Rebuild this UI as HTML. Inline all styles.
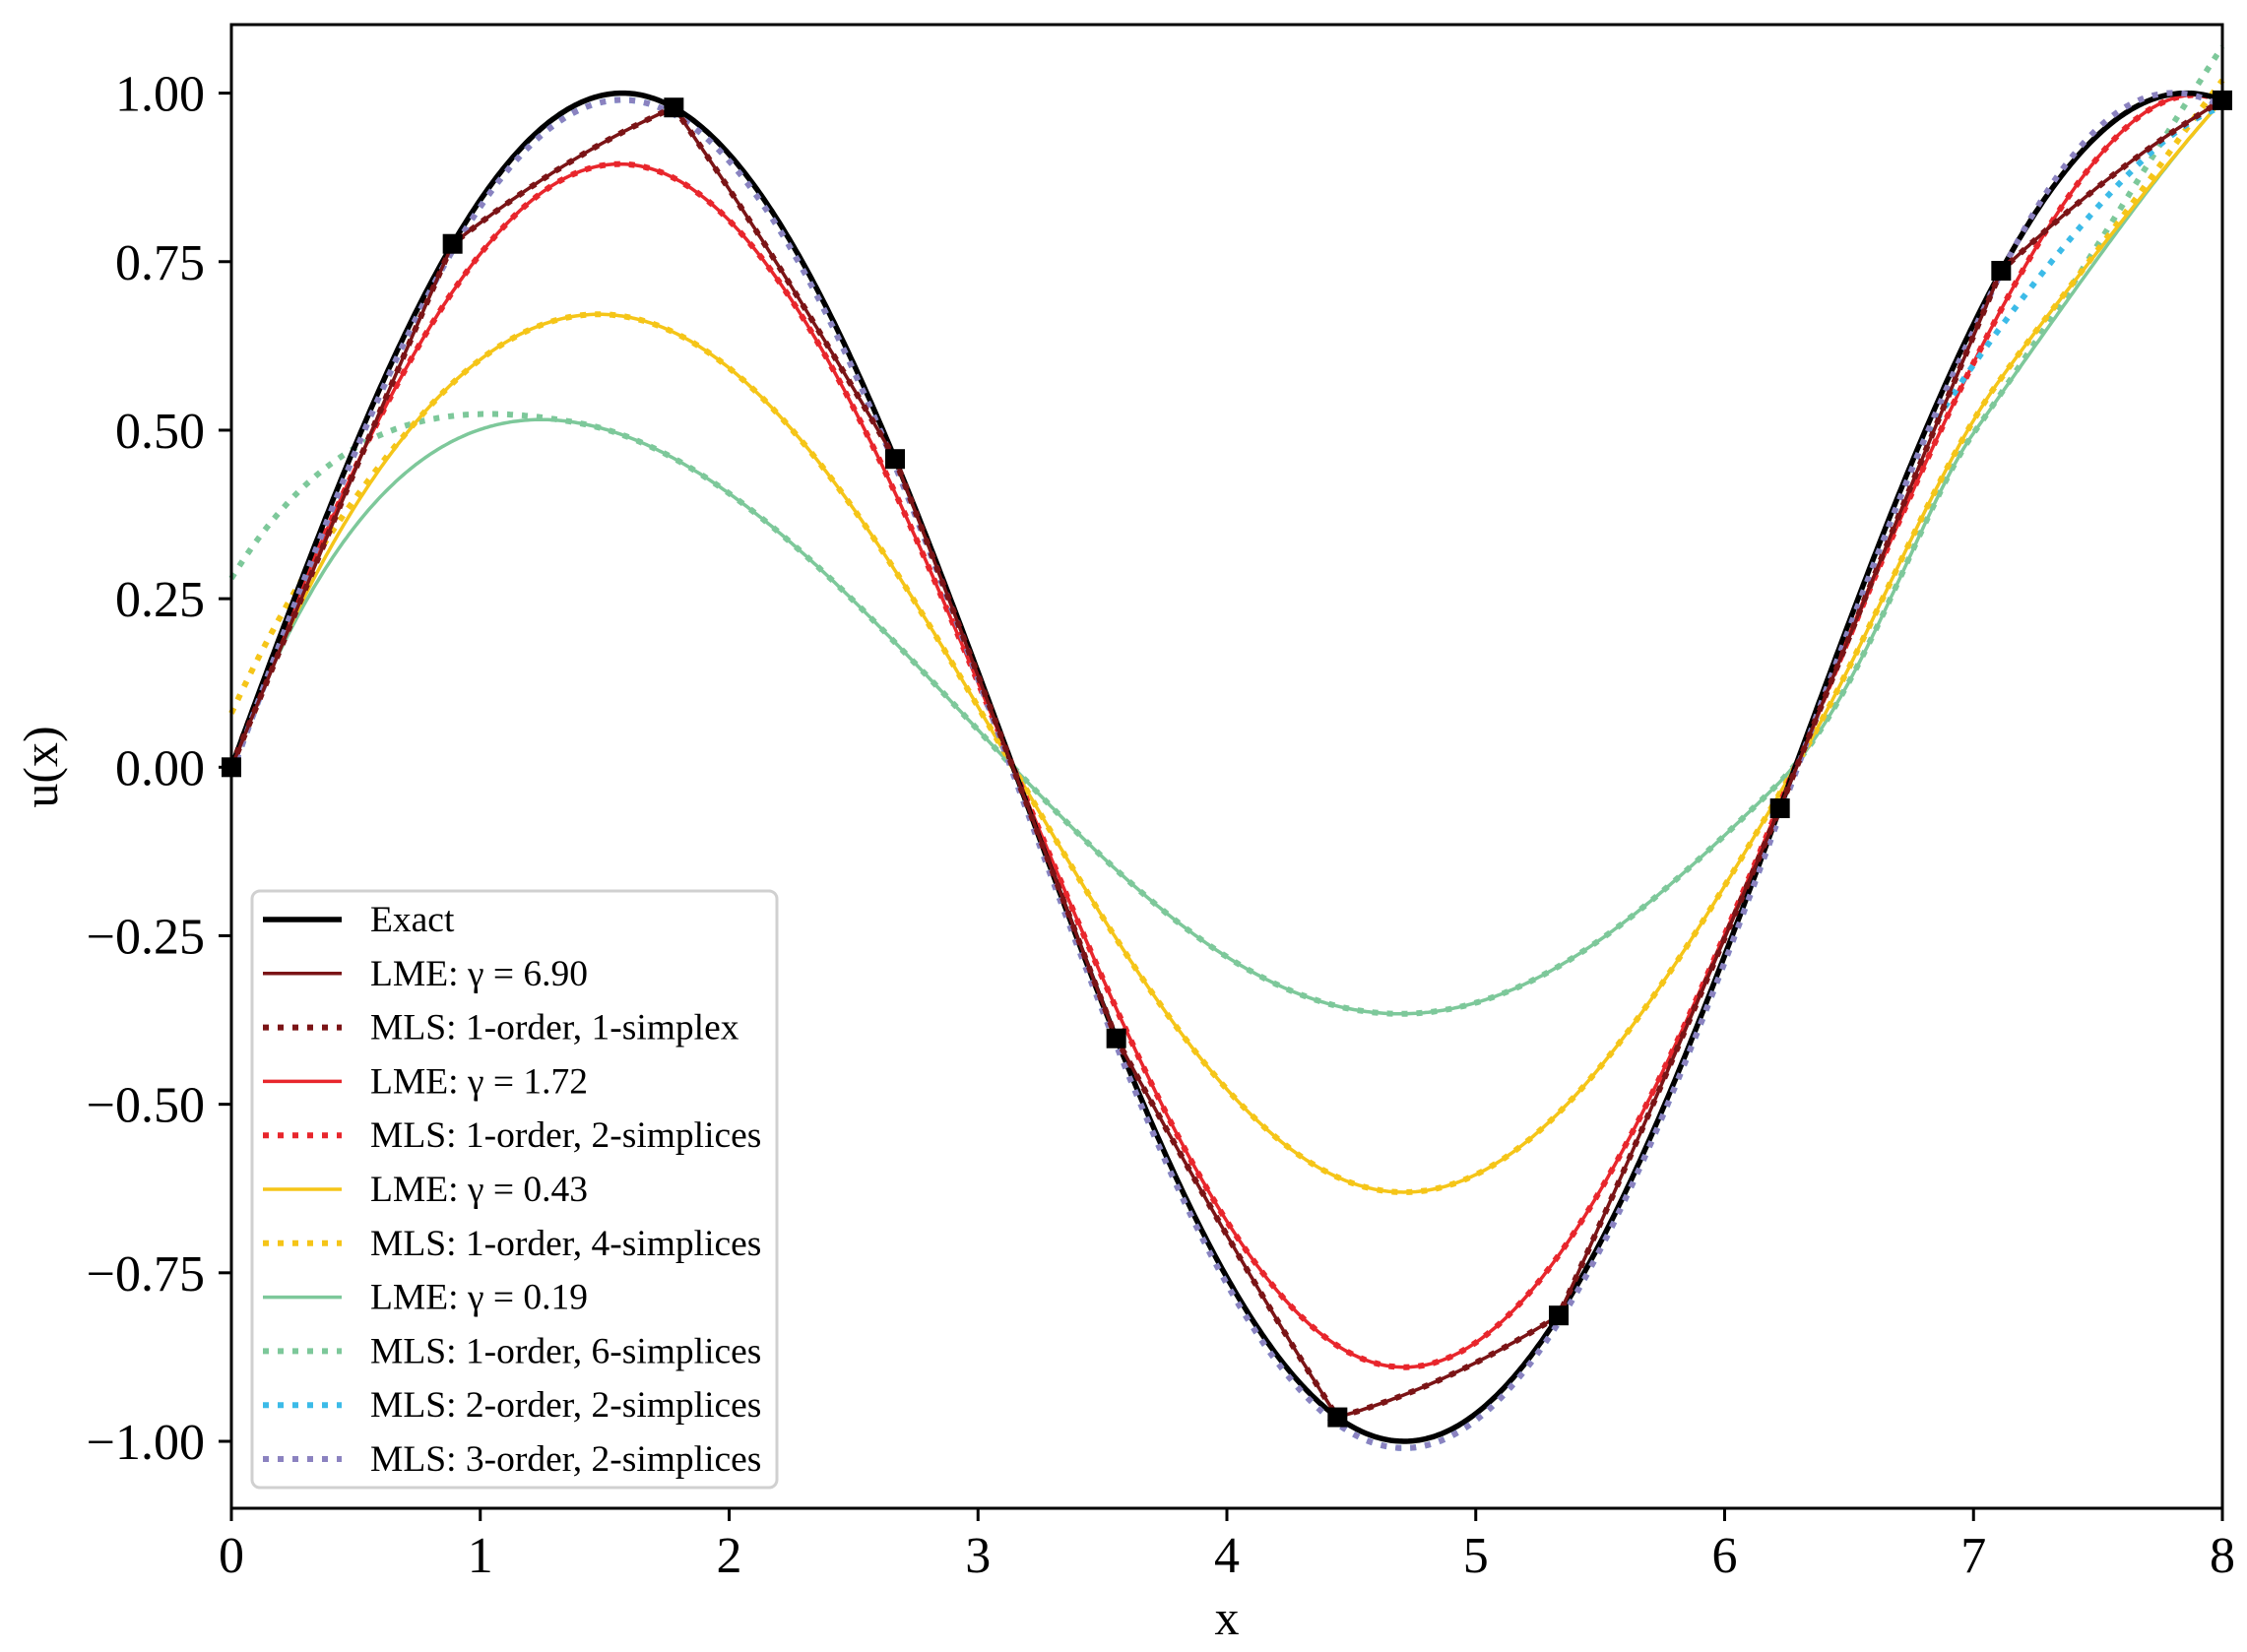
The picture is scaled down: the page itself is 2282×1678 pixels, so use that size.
<!DOCTYPE html>
<html><head><meta charset="utf-8"><style>
html,body{margin:0;padding:0;background:#fff;}
svg{display:block;font-family:"Liberation Serif",serif;}
</style></head><body>
<svg id="s" width="2282" height="1678" viewBox="0 0 2282 1678" xmlns="http://www.w3.org/2000/svg">
<rect width="2282" height="1678" fill="#fff"/>
<g id="curves"></g>
<rect x="235" y="25" width="2022" height="1507" fill="none" stroke="#000" stroke-width="3"/>
<g id="ticks" stroke="#000" stroke-width="3"></g>
<g id="labels" font-size="52" fill="#000"></g>
<text x="1246" y="1660" font-size="50" text-anchor="middle">x</text>
<text transform="translate(58,779) rotate(-90)" font-size="50" text-anchor="middle">u(x)</text>
<g id="legend"></g>
</svg>
<script>
const NS="http://www.w3.org/2000/svg";
const X=x=>235+x*252.75, Y=u=>779.3-u*684.7;
function el(p,t,a,txt){const e=document.createElementNS(NS,t);for(const k in a)e.setAttribute(k,a[k]);if(txt!==undefined)e.textContent=txt;document.getElementById(p).appendChild(e);return e;}
const nodes=[];for(let i=0;i<10;i++){const x=i*8/9;nodes.push([x,Math.sin(x)]);}
function lin(x){for(let i=0;i<9;i++){if(x<=nodes[i+1][0]+1e-9){const t=(x-nodes[i][0])/(nodes[i+1][0]-nodes[i][0]);return nodes[i][1]*(1-t)+nodes[i+1][1]*t;}}return nodes[9][1];}
const ss=t=>{t=Math.max(0,Math.min(1,t));return t*t*(3-2*t);};
const lineT=x=>0.989-0.4*(8-x);
function smooth(A,L,R,T,x0){return x=>{const wl=Math.min(1,Math.exp(-x/L));const base=Math.sin(x)*(A+(1-A)*wl);const wr=x>x0?Math.exp(-Math.pow((8-x)/R,2))*ss((x-x0)/0.8):0;return base*(1-wr)+wr*T(x);};}
const green=smooth(0.36,1.0,1.8,lineT,6.2), yellow=smooth(0.63,0.7,1.4,lineT,6.3), red=smooth(0.89,0.5,0.8,Math.sin,6.0);
const dkred=x=>0.85*lin(x)+0.15*Math.sin(x);
const greenD=x=>green(x)+(x<1.4?0.28*Math.pow(1-x/1.4,2):0)+(x>7?0.08*Math.pow(x-7,2):0);
const yellowD=x=>yellow(x)+(x<0.8?0.08*Math.pow(1-x/0.8,2):0)+(x>7.3?0.03*Math.pow((x-7.3)/0.7,2):0);
const blue=x=>Math.sin(x)-(x>6.8?0.1*Math.sin(Math.PI*(x-6.8)/1.2):0)-0.01;
const purple=x=>Math.sin(x)+(x>7?0.02*Math.sin(Math.PI*(x-7)):0)-0.01;
function path(f){let d="";for(let i=0;i<=800;i++){const x=i/100;d+=(i?"L":"M")+X(x).toFixed(1)+","+Y(f(x)).toFixed(1);}return d;}
function draw(f,c,w,dash){const a={d:path(f),fill:"none",stroke:c,"stroke-width":w,"stroke-linejoin":"round"};if(dash)a["stroke-dasharray"]=dash;el("curves","path",a);}
const series=[
["Exact","#000",5.5,null,Math.sin],
["LME: \u03b3 = 6.90","#7b1416",3.5,null,dkred],
["MLS: 1-order, 1-simplex","#7b1416",6,"6,9",dkred],
["LME: \u03b3 = 1.72","#e8262c",3.5,null,red],
["MLS: 1-order, 2-simplices","#e8262c",6,"6,9",red],
["LME: \u03b3 = 0.43","#f5c518",3.5,null,yellow],
["MLS: 1-order, 4-simplices","#f5c518",6,"6,9",yellowD],
["LME: \u03b3 = 0.19","#7dc89a",3.5,null,green],
["MLS: 1-order, 6-simplices","#7dc89a",6,"6,9",greenD],
["MLS: 2-order, 2-simplices","#3cbbe8",6,"6,9",blue],
["MLS: 3-order, 2-simplices","#8b82c0",6,"6,9",purple]];
const order=[7,8,5,6,3,4,0,9,10,1,2];
for(const i of order){const s=series[i];draw(s[4],s[1],s[2],s[3]);}
for(const n of nodes)el("curves","rect",{x:X(n[0])-10,y:Y(n[1])-10,width:20,height:20,fill:"#000"});
for(let i=0;i<=8;i++){el("ticks","line",{x1:X(i),y1:1532,x2:X(i),y2:1545});el("labels","text",{x:X(i),y:1597,"text-anchor":"middle"},String(i));}
for(let k=-4;k<=4;k++){const u=k*0.25;el("ticks","line",{x1:235,y1:Y(u),x2:222,y2:Y(u)});el("labels","text",{x:208,y:Y(u)+18,"text-anchor":"end"},(u<0?"\u2212":"")+Math.abs(u).toFixed(2));}
el("legend","rect",{x:256,y:905,width:533,height:606,rx:8,fill:"#fff","fill-opacity":0.85,stroke:"#d0d0d0","stroke-width":3});
series.forEach((s,i)=>{const y=934+i*54.8;const a={x1:267,y1:y,x2:347,y2:y,stroke:s[1],"stroke-width":s[2]};if(s[3])a["stroke-dasharray"]=s[3];el("legend","line",a);el("legend","text",{x:376,y:y+12,"font-size":37.5},s[0]);});
</script>
</body></html>
